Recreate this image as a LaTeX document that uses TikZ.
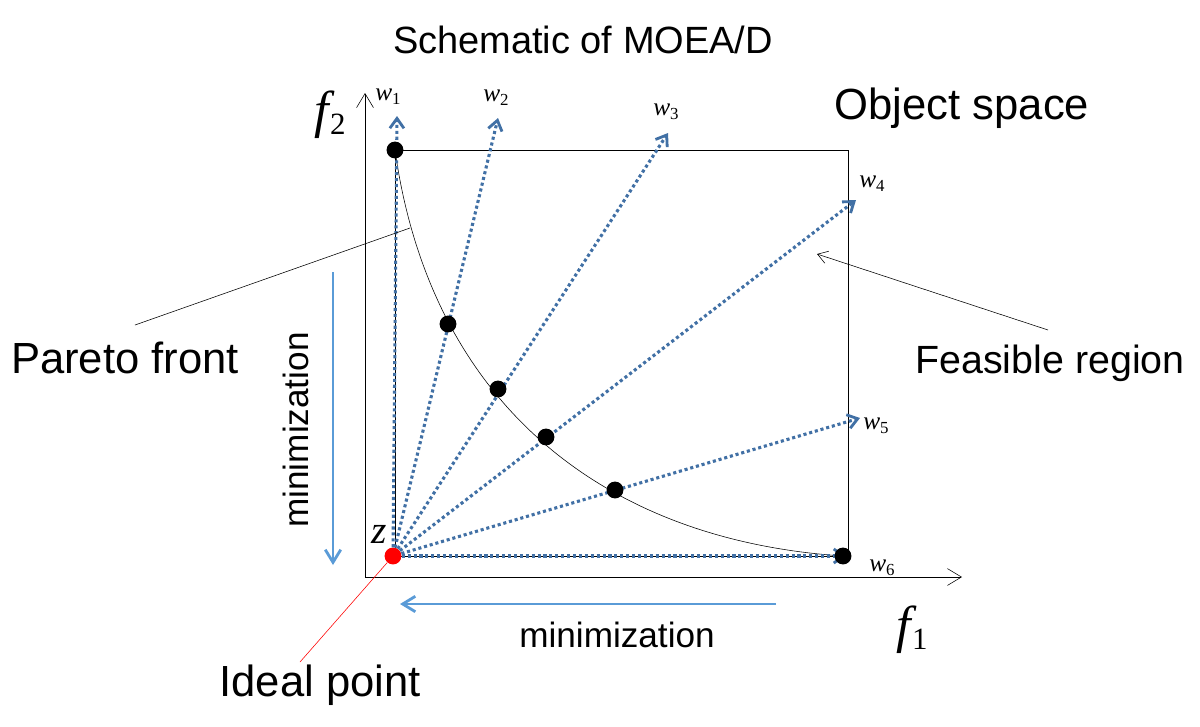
\documentclass[tikz,border=0pt]{standalone}
\usepackage{fontspec}
\setmainfont{Liberation Sans}
\newfontfamily\serif{Liberation Serif}
\usetikzlibrary{arrows.meta}
\definecolor{wblue}{RGB}{65,112,165}
\definecolor{mblue}{RGB}{90,155,215}
\begin{document}
\begin{tikzpicture}[x=0.025cm,y=-0.025cm,
    weight/.style={wblue,line width=2.2pt,dotted,-{Straight Barb[length=7pt,width=10pt,line width=2pt]}},
    sol/.style={circle,fill=black,inner sep=0pt,minimum size=12pt},
    lbl/.style={font=\fontsize{31}{34}\selectfont},
    wl/.style={font=\fontsize{18}{18}\selectfont\serif\itshape}]
\useasboundingbox (0,0) rectangle (1200,726);
% axes
\coordinate (o) at (365,577);
\coordinate (xe) at (962,577);
\coordinate (ye) at (365,93);
\draw[-{Straight Barb[length=10pt,width=12pt]}] (o) -- (xe);
\draw[-{Straight Barb[length=10pt,width=12pt]}] (o) -- (ye);
\node (f1) at (912,630) {\fontsize{37}{37}\selectfont\serif\itshape f\kern1pt\raisebox{-5pt}{\fontsize{22}{22}\selectfont\upshape 1}};
\node (f2) at (330,115) {\fontsize{37}{37}\selectfont\serif\itshape f\kern1pt\raisebox{-5pt}{\fontsize{22}{22}\selectfont\upshape 2}};
% feasible box
\draw (395,150) rectangle (848,556);
% pareto front
\draw (395,150) .. controls (430,400) and (600,540) .. (843,556);
% ideal point and weights
\node[circle,fill=red,inner sep=0pt,minimum size=12pt] (z) at (393,556) {};
\node[font=\fontsize{28}{28}\selectfont\serif\itshape] (zl) at (379,534) {z};
\foreach \n/\x/\y/\lx/\ly in {1/397/116/388/97, 2/498/118/496/98, 3/668/133/666/112, 4/856/200/872/184, 5/860/418/876/426, 6/846/556/882/568}{
  \coordinate (w\n) at (\x,\y);
  \draw[weight] (z) -- (w\n);
  \node[wl] (wl\n) at (\lx,\ly) {w\raisebox{-3pt}{\fontsize{12}{12}\selectfont\upshape\n}};
}
\foreach \n/\x/\y in {1/395/150, 2/448/324, 3/498/389, 4/546/437, 5/615/490, 6/843/556}
  \node[sol] (p\n) at (\x,\y) {};
% labels
\node[font=\fontsize{27}{30}\selectfont] (title) at (583,40) {Schematic of MOEA/D};
\node[lbl] (obj) at (962,108) {Object space};
\node[lbl] (pf) at (125,358) {Pareto front};
\coordinate (pft) at (410,228);
\draw (135,325) -- (pft);
\node[font=\fontsize{28}{30}\selectfont] (fr) at (1050,363) {Feasible region};
\coordinate (frt) at (817,254);
\draw[-{Straight Barb[length=7pt,width=9pt]}] (1048,330) -- (frt);
\node[lbl] (ip) at (320,685) {Ideal point};
\draw[red] (z) -- (300,662);
% minimization arrows
\draw[mblue,line width=2pt,-{Straight Barb[length=9pt,width=11pt]}] (333,272) -- (333,565);
\node[rotate=90,font=\fontsize{25}{28}\selectfont] (mv) at (296,430) {minimization};
\draw[mblue,line width=2pt,-{Straight Barb[length=9pt,width=11pt]}] (776,604) -- (400,604);
\node[font=\fontsize{25}{28}\selectfont] (mh) at (617,635) {minimization};
\end{tikzpicture}
\end{document}
